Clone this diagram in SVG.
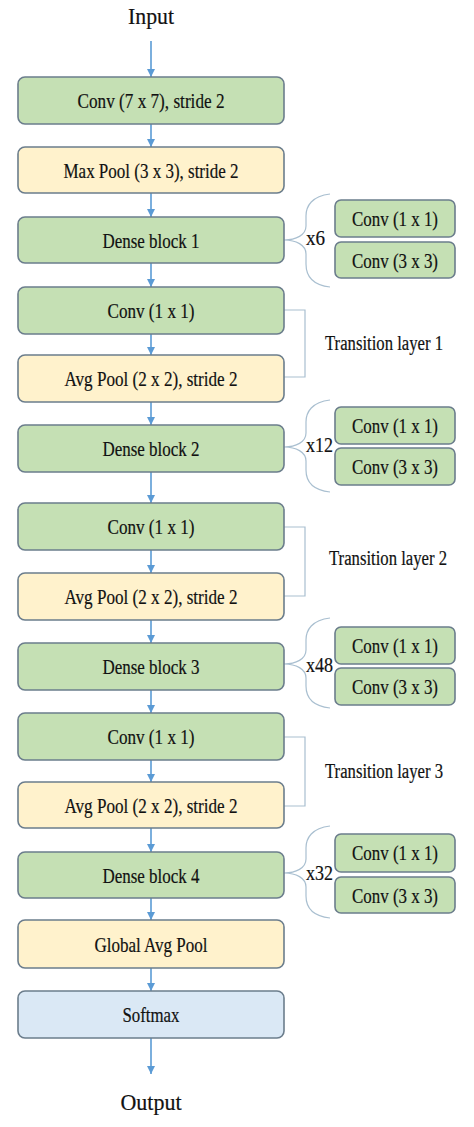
<svg xmlns="http://www.w3.org/2000/svg" width="474" height="1127" viewBox="0 0 474 1127" font-family="'Liberation Serif', 'Times New Roman', serif">
<defs>
<style>
text{font-family:'Liberation Serif','Times New Roman',serif;fill:#111;stroke:#111;stroke-width:0.2;}
.lbl{font-size:21px;text-anchor:middle;}
.tr{font-size:20px;text-anchor:middle;}
.big{font-size:24px;text-anchor:middle;}
.rep{font-size:21px;text-anchor:middle;}
.box{stroke:#6b7d8c;stroke-width:1.6;}
.g{fill:#c5e0b4;}
.y{fill:#fff2cc;}
.b{fill:#dae8f5;}
.arr{stroke:#5b9bd5;stroke-width:1.6;fill:none;marker-end:url(#ah);}
.br{stroke:#a9bfd0;stroke-width:1.2;fill:none;}
</style>
<marker id="ah" markerUnits="userSpaceOnUse" markerWidth="8" markerHeight="8" viewBox="0 0 10 10" refX="10" refY="5" orient="auto">
<path d="M0,0 L10,5 L0,10 Z" fill="#5b9bd5"/>
</marker>
</defs>
<rect width="474" height="1127" fill="#ffffff"/>

<g id="connectors">
<line class="arr" x1="151" y1="41" x2="151" y2="77"/>
<line class="arr" x1="151" y1="124" x2="151" y2="147"/>
<line class="arr" x1="151" y1="193" x2="151" y2="217"/>
<line class="arr" x1="151" y1="263" x2="151" y2="287"/>
<line class="arr" x1="151" y1="334" x2="151" y2="355"/>
<line class="arr" x1="151" y1="402" x2="151" y2="425"/>
<line class="arr" x1="151" y1="472" x2="151" y2="503"/>
<line class="arr" x1="151" y1="550" x2="151" y2="573"/>
<line class="arr" x1="151" y1="620" x2="151" y2="643"/>
<line class="arr" x1="151" y1="690" x2="151" y2="713"/>
<line class="arr" x1="151" y1="760" x2="151" y2="782"/>
<line class="arr" x1="151" y1="828" x2="151" y2="852"/>
<line class="arr" x1="151" y1="898" x2="151" y2="920"/>
<line class="arr" x1="151" y1="968" x2="151" y2="991"/>
<line class="arr" x1="151" y1="1038" x2="151" y2="1074"/>
<polyline class="br" points="284,310 305,310 305,377 284,377"/>
<polyline class="br" points="284,527 305,527 305,596 284,596"/>
<polyline class="br" points="284,737 305,737 305,806 284,806"/>
<path class="br" d="M330,194 C312,196 306,206 306,216 L306,226 C306,235 296,240 284,240 C296,240 306,245 306,254 L306,264 C306,275 312,285 330,287"/>
<path class="br" d="M330,400 C312,402 306,412 306,422 L306,433 C306,442 296,447 284,447 C296,447 306,452 306,461 L306,470 C306,481 312,490 330,492"/>
<path class="br" d="M330,618 C312,620 306,630 306,640 L306,650 C306,659 296,664 284,664 C296,664 306,669 306,678 L306,686 C306,697 312,706 330,708"/>
<path class="br" d="M330,826 C312,828 306,838 306,848 L306,859 C306,868 296,873 284,873 C296,873 306,878 306,887 L306,896 C306,907 312,916 330,918"/>
</g>

<g id="input"><text class="big" x="151" y="24" textLength="46" lengthAdjust="spacingAndGlyphs">Input</text></g>

<g id="conv7"><rect class="box g" x="18" y="77" width="266" height="47" rx="7"/>
<text class="lbl" x="151" y="108" textLength="147" lengthAdjust="spacingAndGlyphs">Conv (7 x 7), stride 2</text></g>

<g id="maxpool"><rect class="box y" x="18" y="147" width="266" height="46" rx="7"/>
<text class="lbl" x="151" y="178" textLength="175" lengthAdjust="spacingAndGlyphs">Max Pool (3 x 3), stride 2</text></g>

<g id="dense1"><rect class="box g" x="18" y="217" width="266" height="46" rx="7"/>
<text class="lbl" x="151" y="248" textLength="97" lengthAdjust="spacingAndGlyphs">Dense block 1</text></g>
<g id="d1rep"><text class="rep" x="315.5" y="245" textLength="19" lengthAdjust="spacingAndGlyphs">x6</text></g>
<g id="d1c1"><rect class="box g" x="335" y="200" width="120" height="37" rx="6"/>
<text class="lbl" x="395" y="226" textLength="86" lengthAdjust="spacingAndGlyphs">Conv (1 x 1)</text></g>
<g id="d1c3"><rect class="box g" x="335" y="242" width="120" height="36" rx="6"/>
<text class="lbl" x="395" y="268" textLength="86" lengthAdjust="spacingAndGlyphs">Conv (3 x 3)</text></g>

<g id="t1conv"><rect class="box g" x="18" y="287" width="266" height="47" rx="7"/>
<text class="lbl" x="151" y="318" textLength="87" lengthAdjust="spacingAndGlyphs">Conv (1 x 1)</text></g>
<g id="t1pool"><rect class="box y" x="18" y="355" width="266" height="47" rx="7"/>
<text class="lbl" x="151" y="386" textLength="173" lengthAdjust="spacingAndGlyphs">Avg Pool (2 x 2), stride 2</text></g>
<g id="t1lbl"><text class="tr" x="384" y="350" textLength="118" lengthAdjust="spacingAndGlyphs">Transition layer 1</text></g>

<g id="dense2"><rect class="box g" x="18" y="425" width="266" height="47" rx="7"/>
<text class="lbl" x="151" y="456" textLength="97" lengthAdjust="spacingAndGlyphs">Dense block 2</text></g>
<g id="d2rep"><text class="rep" x="319.5" y="452" textLength="27" lengthAdjust="spacingAndGlyphs">x12</text></g>
<g id="d2c1"><rect class="box g" x="335" y="407" width="120" height="37" rx="6"/>
<text class="lbl" x="395" y="433" textLength="86" lengthAdjust="spacingAndGlyphs">Conv (1 x 1)</text></g>
<g id="d2c3"><rect class="box g" x="335" y="448" width="120" height="37" rx="6"/>
<text class="lbl" x="395" y="474" textLength="86" lengthAdjust="spacingAndGlyphs">Conv (3 x 3)</text></g>

<g id="t2conv"><rect class="box g" x="18" y="503" width="266" height="47" rx="7"/>
<text class="lbl" x="151" y="534" textLength="87" lengthAdjust="spacingAndGlyphs">Conv (1 x 1)</text></g>
<g id="t2pool"><rect class="box y" x="18" y="573" width="266" height="47" rx="7"/>
<text class="lbl" x="151" y="604" textLength="173" lengthAdjust="spacingAndGlyphs">Avg Pool (2 x 2), stride 2</text></g>
<g id="t2lbl"><text class="tr" x="388" y="565" textLength="118" lengthAdjust="spacingAndGlyphs">Transition layer 2</text></g>

<g id="dense3"><rect class="box g" x="18" y="643" width="266" height="47" rx="7"/>
<text class="lbl" x="151" y="674" textLength="97" lengthAdjust="spacingAndGlyphs">Dense block 3</text></g>
<g id="d3rep"><text class="rep" x="319.5" y="672" textLength="27" lengthAdjust="spacingAndGlyphs">x48</text></g>
<g id="d3c1"><rect class="box g" x="335" y="627" width="120" height="37" rx="6"/>
<text class="lbl" x="395" y="653" textLength="86" lengthAdjust="spacingAndGlyphs">Conv (1 x 1)</text></g>
<g id="d3c3"><rect class="box g" x="335" y="668" width="120" height="37" rx="6"/>
<text class="lbl" x="395" y="694" textLength="86" lengthAdjust="spacingAndGlyphs">Conv (3 x 3)</text></g>

<g id="t3conv"><rect class="box g" x="18" y="713" width="266" height="47" rx="7"/>
<text class="lbl" x="151" y="744" textLength="87" lengthAdjust="spacingAndGlyphs">Conv (1 x 1)</text></g>
<g id="t3pool"><rect class="box y" x="18" y="782" width="266" height="46" rx="7"/>
<text class="lbl" x="151" y="813" textLength="173" lengthAdjust="spacingAndGlyphs">Avg Pool (2 x 2), stride 2</text></g>
<g id="t3lbl"><text class="tr" x="384" y="778" textLength="118" lengthAdjust="spacingAndGlyphs">Transition layer 3</text></g>

<g id="dense4"><rect class="box g" x="18" y="852" width="266" height="46" rx="7"/>
<text class="lbl" x="151" y="883" textLength="97" lengthAdjust="spacingAndGlyphs">Dense block 4</text></g>
<g id="d4rep"><text class="rep" x="319.5" y="880" textLength="27" lengthAdjust="spacingAndGlyphs">x32</text></g>
<g id="d4c1"><rect class="box g" x="335" y="834" width="120" height="38" rx="6"/>
<text class="lbl" x="395" y="860" textLength="86" lengthAdjust="spacingAndGlyphs">Conv (1 x 1)</text></g>
<g id="d4c3"><rect class="box g" x="335" y="877" width="120" height="36" rx="6"/>
<text class="lbl" x="395" y="903" textLength="86" lengthAdjust="spacingAndGlyphs">Conv (3 x 3)</text></g>

<g id="gap"><rect class="box y" x="18" y="920" width="266" height="48" rx="7"/>
<text class="lbl" x="151" y="952" textLength="113" lengthAdjust="spacingAndGlyphs">Global Avg Pool</text></g>
<g id="softmax"><rect class="box b" x="18" y="991" width="266" height="47" rx="7"/>
<text class="lbl" x="151" y="1022" textLength="57" lengthAdjust="spacingAndGlyphs">Softmax</text></g>
<g id="output"><text class="big" x="151" y="1110" textLength="61" lengthAdjust="spacingAndGlyphs">Output</text></g>
</svg>
